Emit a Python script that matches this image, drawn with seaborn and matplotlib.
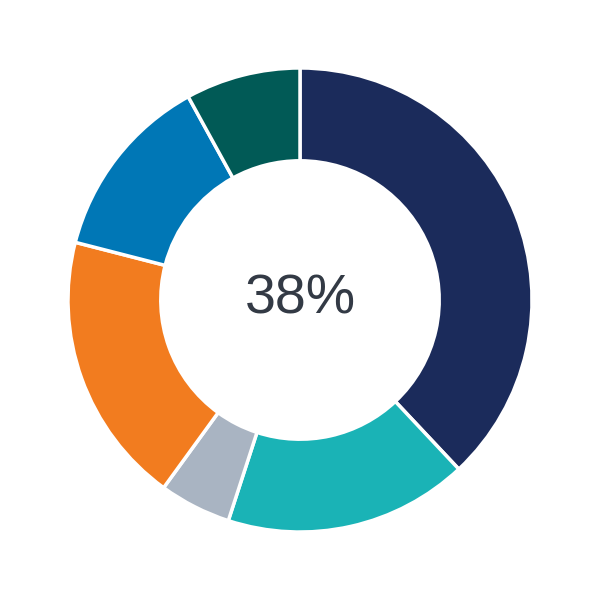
import matplotlib
matplotlib.use('Agg')
import matplotlib.pyplot as plt
import seaborn as sns

# Dados do gráfico de rosca
categorias = ['A', 'B', 'C', 'D', 'E', 'F']
valores = [38, 17, 5, 19, 13, 8]
cores = ['#1b2b5b', '#1ab3b6', '#a9b4c2', '#f27c1f', '#0077b6', '#015a56']
rotulo_centro = '38%'

sns.set_theme(style='white')
plt.rcParams['font.family'] = ['Liberation Sans', 'DejaVu Sans']

fig = plt.figure(figsize=(6, 6), dpi=100)
ax = fig.add_axes([0, 0, 1, 1])

ax.pie(valores, colors=sns.color_palette(cores), startangle=90, counterclock=False,
       radius=1, wedgeprops=dict(width=0.4, edgecolor='white', linewidth=2.5))
ax.text(0, 0, rotulo_centro, ha='center', va='center', fontsize=40, color='#333a45')

ax.set_xlim(-1.293, 1.293)
ax.set_ylim(-1.293, 1.293)
ax.set_aspect('equal')
ax.axis('off')

fig.savefig('out.png', dpi=100, facecolor='white')
